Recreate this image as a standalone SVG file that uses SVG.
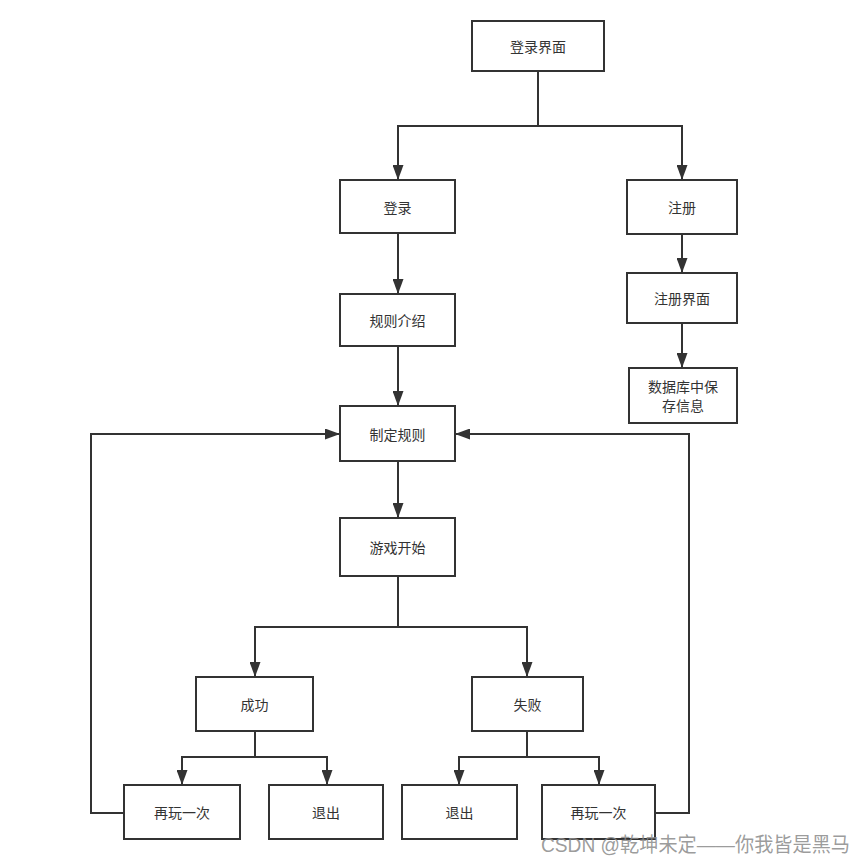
<svg xmlns="http://www.w3.org/2000/svg" width="865" height="864" viewBox="0 0 865 864">
<style>
.box{fill:#fff;stroke:#333;stroke-width:2}
.lbl{font-family:"Noto Sans CJK SC","Noto Sans",sans-serif;font-size:14px;fill:#333;text-anchor:middle;dominant-baseline:central}
.con{fill:none;stroke:#333;stroke-width:2;marker-end:url(#arr)}
.wm{font-family:"Liberation Sans","Noto Sans CJK SC",sans-serif;font-size:20px;fill:#8a8a8a;fill-opacity:0.85}
</style>
<defs>
<marker id="arr" viewBox="0 0 15 11" refX="15" refY="5.5" markerWidth="15" markerHeight="11" markerUnits="userSpaceOnUse" orient="auto">
<path d="M0,0 L15,5.5 L0,11 z" fill="#333"/>
</marker>
</defs>
<rect width="865" height="864" fill="#fff"/>
<g id="connectors">
<path class="con" d="M538,71 V126 H398 V180"/>
<path class="con" d="M538,71 V126 H682 V180"/>
<path class="con" d="M398,233 V294"/>
<path class="con" d="M398,346 V406"/>
<path class="con" d="M398,461 V518"/>
<path class="con" d="M398,576 V627 H255 V677"/>
<path class="con" d="M398,576 V627 H527 V677"/>
<path class="con" d="M255,731 V757 H182 V785"/>
<path class="con" d="M255,731 V757 H327 V785"/>
<path class="con" d="M527,731 V757 H459 V785"/>
<path class="con" d="M527,731 V757 H599 V785"/>
<path class="con" d="M124,813 H91 V434 H340"/>
<path class="con" d="M655,813 H689 V434 H455"/>
<path class="con" d="M682,234 V273"/>
<path class="con" d="M682,323 V368"/>
</g>
<g id="n_login_ui"><rect class="box" x="472" y="21" width="132" height="50"/><text class="lbl" x="538" y="46">登录界面</text></g>
<g id="n_login"><rect class="box" x="340" y="180" width="115" height="53"/><text class="lbl" x="397.5" y="206.5">登录</text></g>
<g id="n_register"><rect class="box" x="627" y="180" width="110" height="54"/><text class="lbl" x="682" y="207">注册</text></g>
<g id="n_register_ui"><rect class="box" x="627" y="273" width="110" height="50"/><text class="lbl" x="682" y="298">注册界面</text></g>
<g id="n_db"><rect class="box" x="629" y="368" width="108" height="55"/><text class="lbl" x="683" y="386">数据库中保</text><text class="lbl" x="683" y="405">存信息</text></g>
<g id="n_rules_intro"><rect class="box" x="340" y="294" width="115" height="52"/><text class="lbl" x="397.5" y="320">规则介绍</text></g>
<g id="n_set_rules"><rect class="box" x="340" y="406" width="115" height="55"/><text class="lbl" x="397.5" y="433.5">制定规则</text></g>
<g id="n_game_start"><rect class="box" x="340" y="518" width="115" height="58"/><text class="lbl" x="397.5" y="547">游戏开始</text></g>
<g id="n_success"><rect class="box" x="196" y="677" width="117" height="54"/><text class="lbl" x="254.5" y="704">成功</text></g>
<g id="n_fail"><rect class="box" x="472" y="677" width="111" height="54"/><text class="lbl" x="527.5" y="704">失败</text></g>
<g id="n_again_left"><rect class="box" x="124" y="785" width="116" height="54"/><text class="lbl" x="182" y="812">再玩一次</text></g>
<g id="n_exit_left"><rect class="box" x="269" y="785" width="114" height="54"/><text class="lbl" x="326" y="812">退出</text></g>
<g id="n_exit_right"><rect class="box" x="402" y="785" width="115" height="54"/><text class="lbl" x="459.5" y="812">退出</text></g>
<g id="n_again_right"><rect class="box" x="542" y="785" width="113" height="54"/><text class="lbl" x="598.5" y="812">再玩一次</text></g>
<text class="wm" x="541" y="852" textLength="309" lengthAdjust="spacingAndGlyphs">CSDN @乾坤未定——你我皆是黑马</text>
</svg>
